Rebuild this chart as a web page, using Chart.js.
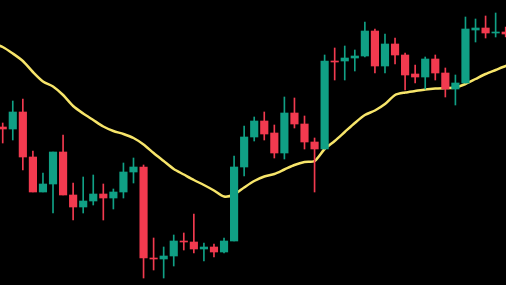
<!DOCTYPE html>
<html>
<head>
<meta charset="UTF-8" />
<title>Candles</title>
<script src="https://cdn.jsdelivr.net/npm/chart.js"></script>
<style>
  html, body { margin: 0; padding: 0; background: #000; overflow: hidden; }
  #wrap { width: 506px; height: 285px; }
</style>
</head>
<body>
<div id="wrap"><canvas id="chart" width="506" height="285"></canvas></div>
<script>
// --- Candle data (price units) ---
const opens  = [158,156,173,128, 93,101,133, 90, 78, 84, 91, 87, 93,113,118, 27, 26, 29, 44, 43, 36, 38, 33, 44,118,148,164,152,132,172,161,143,136,224,224,227,229,254,219,241,230,211,208,226,212,196,202,255,257,252,253];
const highs  = [162,184,186,134,112,133,150,102,108,110,101, 96,122,127,120, 47, 38, 50, 52, 71, 42, 41, 47,129,159,168,173,160,188,187,169,147,230,237,239,235,263,256,251,247,232,220,228,230,217,210,268,266,269,272,258];
const lows   = [142,145,115, 93, 93, 72, 90, 65, 72, 80, 65, 76, 87,102,  7, 15,  7, 19, 35, 32, 24, 28, 32, 44,109,144,145,127,126,157,136, 93,136,205,205,214,228,212,212,221,195,202,196,205,188,180,202,243,247,248,248];
const closes = [156,173,128, 93,101,133, 90, 78, 84, 91, 87, 93,113,118, 27, 26, 29, 44, 43, 36, 38, 33, 44,118,148,164,151,132,172,161,143,136,224,223,227,229,254,219,241,230,210,208,226,212,196,202,256,257,252,253,251];

// moving average, one value per candle slot from -1 to 51
const maIndex  = [-1, 0, 1, 2, 3, 4, 5, 6, 7, 8, 9,10,11,12,13,14,15,16,17,18,19,20,21,22,23,24,25,26,27,28,29,30,31,32,33,34,35,36,37,38,39,40,41,42,43,44,45,46,47,48,49,50,51];
const maValues = [242,238,231.5,224,213,203.5,198.5,190,179,171.5,165,158.5,154,151,147,140.5,132,124,116,110.5,105,100,94.5,88.5,90.5,97.5,104,108.5,111,115.5,120,123,124,136,144,153,162,170,174.5,181,190,192.5,194,195.5,196.5,197,197.5,201,206,211,215,219,222];

const UP = '#10a085';
const DOWN = '#f23a4f';
const MA = '#f7e56a';

const idx = opens.map((_, i) => i);
const colors = idx.map(i => closes[i] >= opens[i] ? UP : DOWN);

const ctx = document.getElementById('chart').getContext('2d');
new Chart(ctx, {
  type: 'bar',
  data: {
    datasets: [
      {
        type: 'line',
        data: maIndex.map((x, i) => ({ x, y: maValues[i] })),
        borderColor: MA,
        borderWidth: 2.5,
        pointRadius: 0,
        tension: 0.25,
        order: 3
      },
      {
        data: idx.map(i => ({ x: i, y: [lows[i], highs[i]] })),
        backgroundColor: colors,
        barThickness: 1,
        grouped: false,
        order: 2
      },
      {
        data: idx.map(i => ({ x: i, y: [opens[i], closes[i]] })),
        backgroundColor: colors,
        barThickness: 7.5,
        minBarLength: 1,
        grouped: false,
        order: 1
      }
    ]
  },
  options: {
    responsive: false,
    animation: false,
    devicePixelRatio: 1,
    layout: { padding: 0 },
    plugins: { legend: { display: false }, tooltip: { enabled: false } },
    scales: {
      x: { type: 'linear', min: -0.27, max: 50.03, offset: false, display: false },
      y: { min: 0, max: 285, display: false }
    }
  }
});
</script>
</body>
</html>
